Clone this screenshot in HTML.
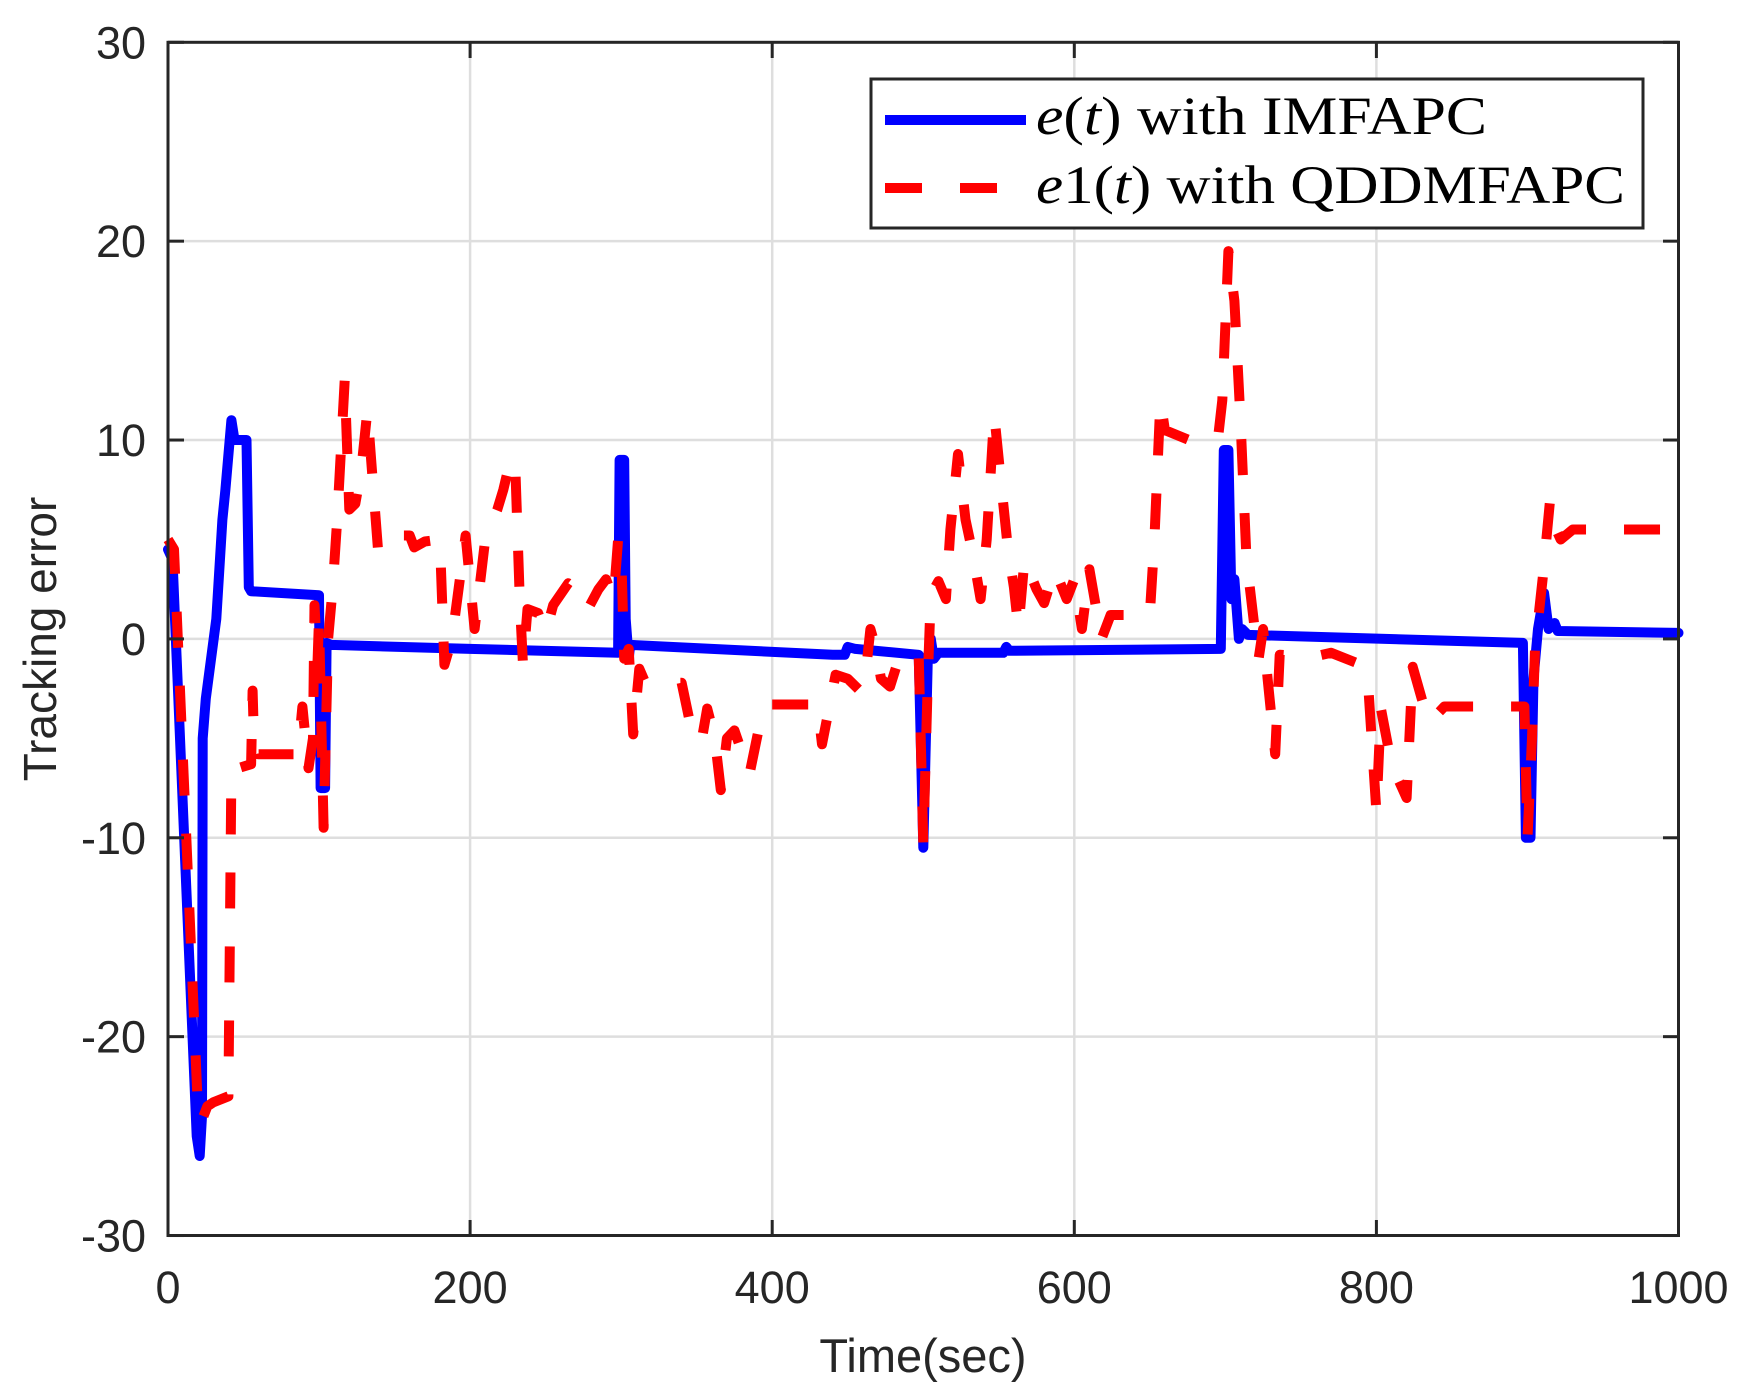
<!DOCTYPE html>
<html><head><meta charset="utf-8"><style>
html,body{margin:0;padding:0;background:#fff;}
svg{display:block;}
text{font-family:"Liberation Sans",Arial,sans-serif;fill:#262626;}
</style></head><body>
<svg id="s" width="1749" height="1390" xmlns="http://www.w3.org/2000/svg">
<rect width="1749" height="1390" fill="#fff"/>
<g id="grid" stroke="#dedede" stroke-width="2.5"></g>
<path id="blue" fill="none" stroke="#0000ff" stroke-width="10" stroke-linejoin="round" stroke-linecap="round"/>
<path id="red" fill="none" stroke="#ff0000" stroke-width="10" stroke-dasharray="36 38" stroke-linejoin="round"/>
<rect x="168" y="42.3" width="1510.5" height="1193.2" fill="none" stroke="#262626" stroke-width="3"/>
<g id="ticks" stroke="#262626" stroke-width="3"></g>
<g id="labels" font-size="45"></g>
<text x="923" y="1372" font-size="47" text-anchor="middle">Time(sec)</text>
<text transform="translate(56,639) rotate(-90)" font-size="46" text-anchor="middle">Tracking error</text>
<rect x="871" y="79" width="772" height="149" fill="#fff" stroke="#262626" stroke-width="3"/>
<line x1="885" y1="120" x2="1026" y2="120" stroke="#0000ff" stroke-width="10"/>
<line x1="885" y1="188" x2="998" y2="188" stroke="#ff0000" stroke-width="10" stroke-dasharray="37 38"/>
<text x="1036" y="134" font-size="54" textLength="451" lengthAdjust="spacingAndGlyphs" style="font-family:'Liberation Serif',serif;fill:#000"><tspan font-style="italic">e</tspan>(<tspan font-style="italic">t</tspan>) with IMFAPC</text>
<text x="1036" y="203" font-size="54" textLength="589" lengthAdjust="spacingAndGlyphs" style="font-family:'Liberation Serif',serif;fill:#000"><tspan font-style="italic">e</tspan>1(<tspan font-style="italic">t</tspan>) with QDDMFAPC</text>
</svg>
<script>
var X=t=>168+1.5105*t, Y=v=>42.3+(30-v)*19.887;
var NS="http://www.w3.org/2000/svg";
function el(p,n,a,txt){var e=document.createElementNS(NS,n);for(var k in a)e.setAttribute(k,a[k]);if(txt!=null)e.textContent=txt;document.getElementById(p).appendChild(e);}
for(var t=200;t<1000;t+=200)el("grid","line",{x1:X(t),x2:X(t),y1:42.3,y2:1235.5});
for(var v=-20;v<=20;v+=10)el("grid","line",{x1:168,x2:1678.5,y1:Y(v),y2:Y(v)});
for(var t=0;t<=1000;t+=200){el("ticks","line",{x1:X(t),x2:X(t),y1:1235.5,y2:1220});el("ticks","line",{x1:X(t),x2:X(t),y1:42.3,y2:58});
 el("labels","text",{x:X(t),y:1303,"text-anchor":"middle"},String(t));}
for(var v=-30;v<=30;v+=10){el("ticks","line",{x1:168,x2:184,y1:Y(v),y2:Y(v)});el("ticks","line",{x1:1678.5,x2:1663,y1:Y(v),y2:Y(v)});
 el("labels","text",{x:146,y:Y(v)+16,"text-anchor":"end"},String(v));}
var blue=[[0,4.5],[3,4],[19,-25],[21,-26],[22.5,-24],[23,-5],[25,-3],[32,1],[36,6],[38,7.5],[42,11],[44,10],[52,10],[53.5,2.6],[55,2.4],[100,2.2],[101,-7.5],[104,-7.5],[105,-0.2],[108,-0.3],[200,-0.5],[298,-0.7],[299,9],[302,9],[303,1],[305,-1],[306,-0.3],[440,-0.8],[448,-0.8],[450,-0.4],[455,-0.5],[497,-0.8],[500,-10.5],[503,-1],[505,0],[507,-1],[510,-0.7],[553,-0.7],[555,-0.4],[557,-0.6],[697,-0.5],[699,9.5],[702,9.5],[704,2],[706,3],[709,0],[711,0.5],[715,0.2],[897,-0.2],[899,-10],[902,-10],[904,-2],[907,0.5],[911,2.3],[914,0.5],[918,0.8],[920,0.4],[1000,0.3]];
var red=[[0,5],[4,4.5],[20,-24],[22,-24.3],[26,-23.5],[30,-23.3],[40,-23],[42,-6.6],[55,-6.3],[56,-2.6],[57,-5.3],[60,-5.8],[86,-5.8],[89,-3.4],[93,-6.5],[96,-5],[97,1.7],[99,-1.2],[100,1],[103,-9.5],[106,0],[109,2.5],[112,6],[117,13],[120,6.5],[124,6.8],[128,8.5],[132,11.5],[135,8.5],[139,4.5],[142,5.2],[160,5.2],[163,4.6],[170,4.9],[180,5],[183,-1.3],[188,0],[197,5.2],[203,0.5],[210,5],[218,6.5],[222,7.5],[227,9.1],[230,8.5],[233,1.8],[235,-1.3],[238,1.5],[245,1.3],[250,0.3],[255,1.7],[265,2.8],[272,2.4],[278,1.5],[285,2.5],[290,3],[295,2],[298,5],[300,4.5],[302,-1],[305,-0.5],[308,-4.8],[312,-1.5],[316,-2.2],[340,-2.2],[345,-4],[350,-5.2],[354,-4.8],[357,-3.5],[362,-5],[366,-7.6],[370,-5],[375,-4.6],[385,-6.8],[392,-4.2],[395,-3.3],[430,-3.3],[433,-5.3],[442,-1.8],[450,-2],[458,-2.6],[461,-2.4],[465,0.5],[468,-0.3],[472,-2],[478,-2.4],[485,-0.7],[497,-0.8],[500,-10.3],[503,-2],[505,2.2],[510,2.9],[515,2],[518,5.5],[523,9.3],[528,6],[533,4.2],[538,2],[542,5],[547,11.3],[552,7.5],[556,4.6],[560,2.6],[563,0.5],[567,4],[575,2.5],[580,1.8],[587,3.5],[595,2],[600,3],[605,0.5],[610,3.5],[618,0],[624,1.2],[650,1.2],[653,5],[657,12],[660,10.5],[676,10],[695,10],[698,12],[702,19.5],[706,17],[710,11],[714,4],[719,0.8],[722,-1],[725,0.5],[728,-2],[733,-5.8],[736,-0.8],[758,-0.9],[770,-0.7],[790,-1.3],[795,-2.8],[800,-8.7],[803,-3.5],[810,-6.3],[820,-8],[824,-1.4],[830,-3],[835,-4.2],[845,-3.4],[898,-3.4],[900,-10],[903,-5],[905,-0.5],[910,3],[915,7],[919,5.5],[922,5],[930,5.5],[1000,5.5]];
function d(a){return a.map((p,i)=>(i?"L":"M")+X(p[0]).toFixed(1)+" "+Y(p[1]).toFixed(1)).join("");}
document.getElementById("blue").setAttribute("d",d(blue));
document.getElementById("red").setAttribute("d",d(red));
</script>
</body></html>
